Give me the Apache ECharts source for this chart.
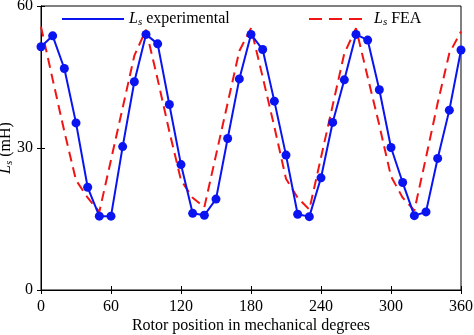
<!DOCTYPE html>
<html>
<head>
<meta charset="utf-8">
<script src="https://cdn.jsdelivr.net/npm/echarts@6/dist/echarts.min.js"></script>
<style>
  html, body { margin: 0; padding: 0; background: #fff; }
  #chart { width: 474px; height: 335px; }
</style>
</head>
<body>
<div id="chart"></div>
<script>
// Rotor position (mechanical degrees), sampled every 10 degrees
const rotorPosition = [0, 10, 20, 30, 40, 50, 60, 70, 80, 90,
  100, 110, 120, 130, 140, 150, 160, 170, 180,
  190, 200, 210, 220, 230, 240, 250, 260, 270,
  280, 290, 300, 310, 320, 330, 340, 350, 360];

// Measured self inductance Ls (mH)
const lsExperimental = [51.4, 53.7, 46.8, 35.3, 21.7, 15.6, 15.6, 30.3, 44.0, 54.0,
  52.0, 39.2, 26.5, 16.2, 15.8, 19.2, 32.0, 44.6, 54.0,
  50.8, 39.9, 28.5, 16.0, 15.5, 23.7, 35.4, 44.4, 54.0,
  52.8, 42.3, 30.1, 22.7, 15.7, 16.5, 27.8, 38.0, 50.7];

// Finite element prediction of Ls (mH)
const lsFEA = [55.6, 44.5, 33.5, 23.2, 19.5, 16.5, 27.5, 38.5, 49.5, 55.0,
  44.5, 33.5, 23.2, 19.5, 17.5, 28.5, 39.5, 50.5, 55.3,
  45.0, 34.5, 23.5, 19.5, 17.0, 28.0, 39.0, 50.0, 55.3,
  45.0, 34.8, 24.0, 19.5, 16.8, 28.0, 39.5, 50.0, 54.6];

const xTicks = [0, 60, 120, 180, 240, 300, 360];
const yTicks = [0, 30, 60];

const FONT = '"Liberation Serif", "Times New Roman", serif';
const BLUE = '#0a14f0';
const RED = '#f01414';

const pair = (xs, ys) => xs.map((x, i) => [x, ys[i]]);

const labelRich = {
  i: { fontFamily: FONT, fontSize: 16, fontStyle: 'italic', color: '#000' },
  s: { fontFamily: FONT, fontSize: 11, fontStyle: 'italic', color: '#000', padding: [7, 0, 0, 0] },
  t: { fontFamily: FONT, fontSize: 16, color: '#000' }
};

const chart = echarts.init(document.getElementById('chart'), null, { renderer: 'canvas' });

const axisCommon = {
  type: 'value',
  splitLine: { show: false },
  axisLine: { show: true, lineStyle: { color: '#000', width: 1 } },
  axisTick: { show: true, inside: true, length: 4, lineStyle: { color: '#000' } }
};

chart.setOption({
  animation: false,
  backgroundColor: '#fff',
  grid: {
    left: 41, right: 13, top: 6, bottom: 45,
    containLabel: false, outerBoundsMode: 'none',
    show: true, borderColor: '#000', borderWidth: 1
  },
  legend: [
    {
      left: 56, top: 6,
      itemWidth: 62, itemHeight: 20, itemGap: 6,
      data: [{ name: 'exp', itemStyle: { opacity: 0 } }],
      lineStyle: { width: 2 },
      formatter: () => '{i|L}{s|s}{t| experimental}',
      textStyle: { rich: labelRich }
    },
    {
      left: 303, top: 6,
      itemWidth: 60, itemHeight: 20, itemGap: 6,
      data: [{ name: 'fea', itemStyle: { opacity: 0 } }],
      lineStyle: { width: 2, type: [13, 7] },
      formatter: () => '{i|L}{s|s}{t| FEA}',
      textStyle: { rich: labelRich }
    }
  ],
  xAxis: [
    Object.assign({}, axisCommon, {
      min: xTicks[0], max: xTicks[xTicks.length - 1], interval: 60,
      name: 'Rotor position in mechanical degrees',
      nameLocation: 'middle', nameGap: 28, nameMoveOverlap: false,
      nameTextStyle: { fontFamily: FONT, fontSize: 16, color: '#000' },
      axisLabel: { fontFamily: FONT, fontSize: 16, color: '#000', margin: 9 }
    }),
    Object.assign({}, axisCommon, {
      position: 'top',
      min: xTicks[0], max: xTicks[xTicks.length - 1], interval: 60,
      axisLabel: { show: false }
    })
  ],
  yAxis: [
    Object.assign({}, axisCommon, {
      min: yTicks[0], max: yTicks[yTicks.length - 1], interval: 30,
      name: '{i|L}{s|s}{t| (mH)}',
      nameLocation: 'middle', nameGap: 26, nameRotate: 90, nameMoveOverlap: false,
      nameTextStyle: { rich: labelRich },
      axisLabel: { fontFamily: FONT, fontSize: 16, color: '#000', margin: 8 }
    }),
    Object.assign({}, axisCommon, {
      position: 'right',
      min: yTicks[0], max: yTicks[yTicks.length - 1], interval: 30,
      axisLabel: { show: false }
    })
  ],
  series: [
    {
      name: 'fea',
      type: 'line',
      data: pair(rotorPosition, lsFEA),
      showSymbol: false,
      symbol: 'none',
      z: 2,
      lineStyle: { color: RED, width: 2, type: [10, 6] },
      itemStyle: { color: RED }
    },
    {
      name: 'exp',
      type: 'line',
      data: pair(rotorPosition, lsExperimental),
      symbol: 'circle',
      symbolSize: 9,
      z: 3,
      lineStyle: { color: BLUE, width: 2 },
      itemStyle: { color: BLUE }
    }
  ]
});
</script>
</body>
</html>
